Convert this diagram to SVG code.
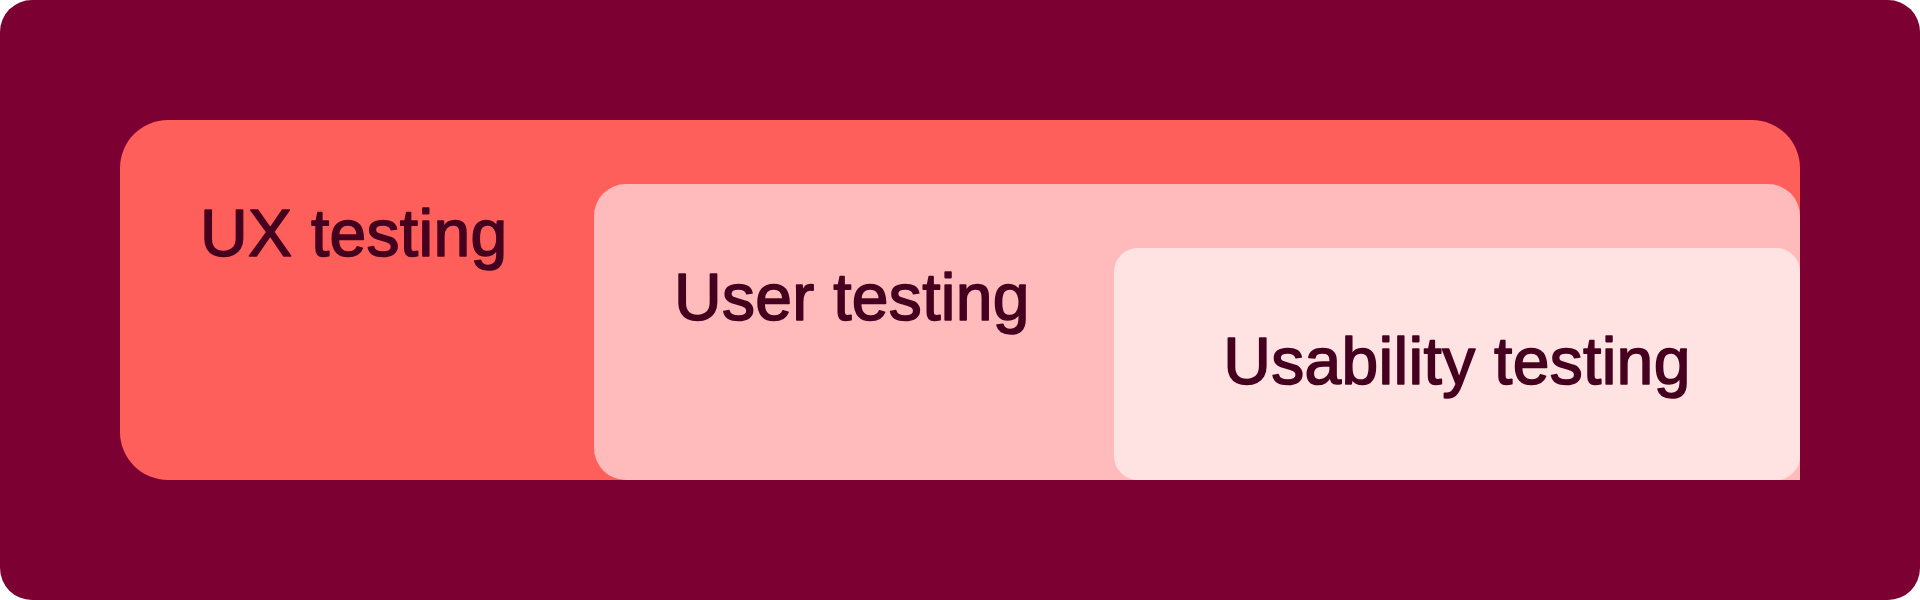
<svg xmlns="http://www.w3.org/2000/svg" width="1920" height="600" viewBox="0 0 1920 600">
<style>
.lbl{font-family:"Liberation Sans",Arial,sans-serif;font-size:66px;fill:#45001F;stroke:#45001F;stroke-width:1.6px;stroke-linejoin:round;letter-spacing:0.3px;}
</style>
<rect id="background" x="0" y="0" width="1920" height="600" rx="32" ry="32" fill="#7D0033"/>
<g id="ux-testing">
<rect x="120" y="120" width="1680" height="360" rx="48" ry="48" fill="#FF5F5B"/>
<text class="lbl" x="200" y="256">UX testing</text>
</g>
<g id="user-testing">
<path d="M626,184 H1768 A32,32 0 0 1 1800,216 V480 H626 A32,32 0 0 1 594,448 V216 A32,32 0 0 1 626,184 Z" fill="#FFBBBB"/>
<text class="lbl" x="674" y="320">User testing</text>
</g>
<g id="usability-testing">
<rect x="1114" y="248" width="686" height="232" rx="24" ry="24" fill="#FFE2E2"/>
<text class="lbl" x="1457" y="384" text-anchor="middle">Usability testing</text>
</g>
<g id="connectors"/>
</svg>
